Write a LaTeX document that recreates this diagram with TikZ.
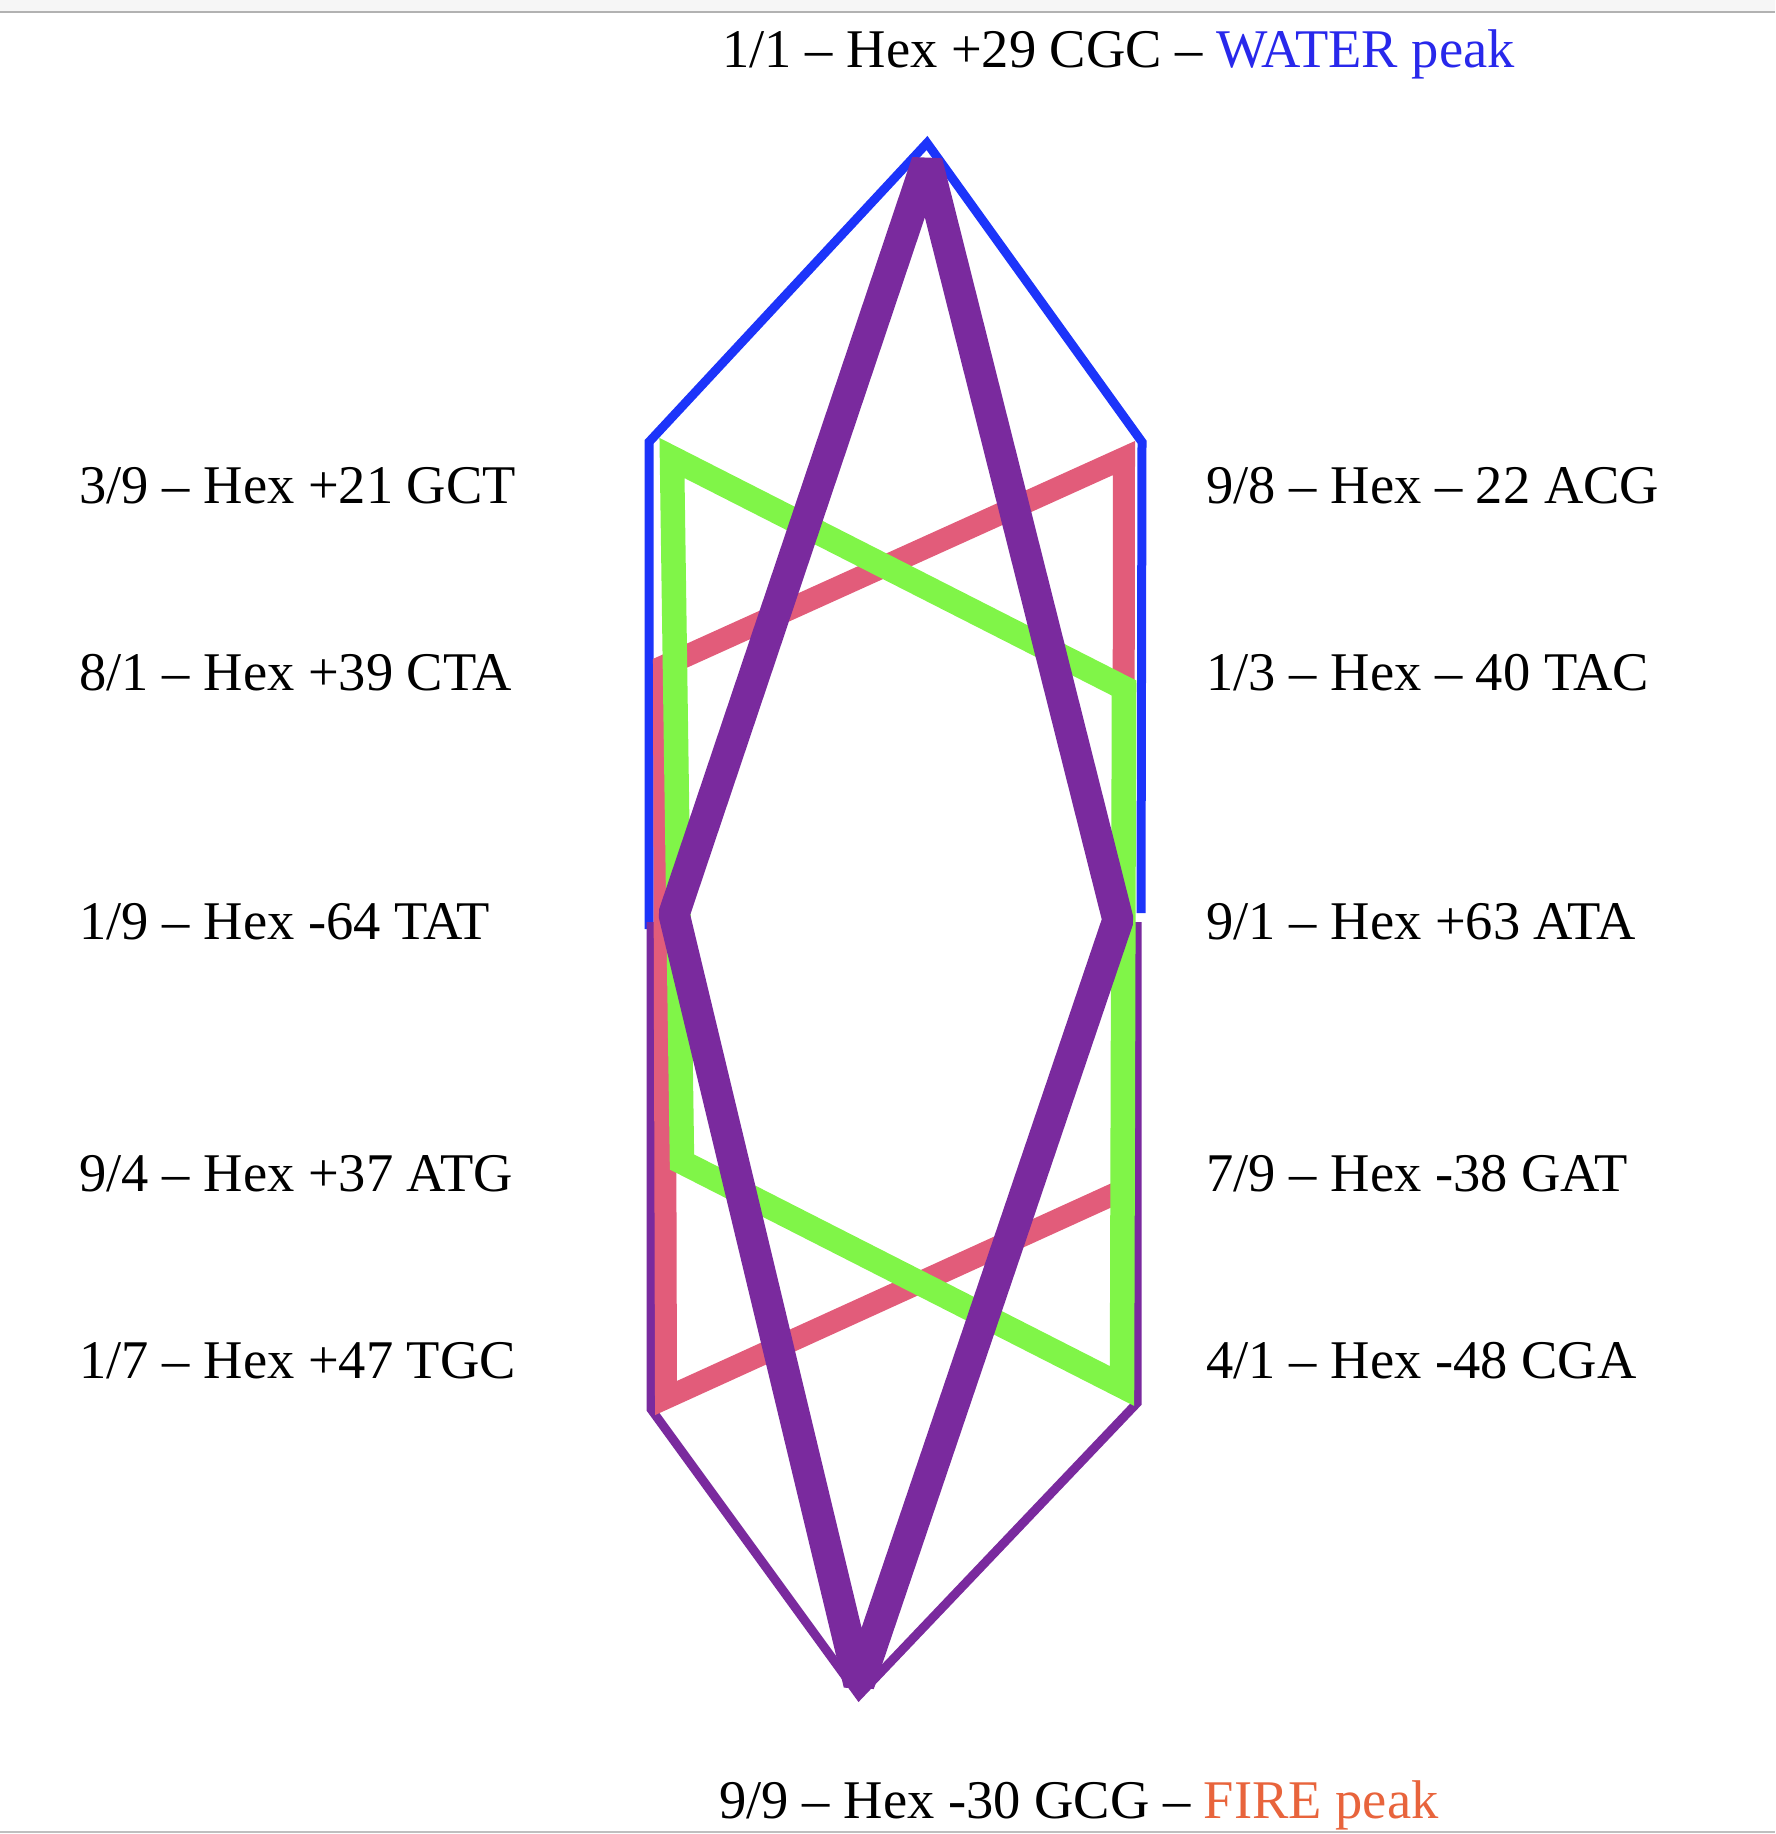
\documentclass[tikz,border=0pt]{standalone}
\usepackage{fontspec}
\setmainfont{Liberation Serif}
\usepackage{tikz}
\definecolor{waterline}{RGB}{28,52,250}
\definecolor{hexpurple}{RGB}{122,42,158}
\definecolor{hexgreen}{RGB}{128,245,72}
\definecolor{hexpink}{RGB}{226,92,122}
\definecolor{watertext}{RGB}{40,40,235}
\definecolor{firetext}{RGB}{232,100,60}
\newcommand{\hexsize}{\fontsize{21.8}{26}\selectfont}

\begin{document}
\begin{tikzpicture}[x=0.4pt, y=-0.4pt,
  hexlabel/.style={anchor=base west, inner sep=0pt, font=\hexsize},
  thinedge/.style={line width=3.6pt, line join=miter},
  bandedge/.style={line width=8.8pt, line join=miter},
  thickedge/.style={line width=12.5pt, line join=bevel}]
\useasboundingbox (0,0) rectangle (1775,1834);
% window frame
\fill[gray!7] (0,0) rectangle (1775,12);
\draw[gray!60, line width=0.8pt] (0,12) -- (1775,12);
\draw[gray!50, line width=0.8pt] (0,1832) -- (1775,1832);

% peaks
\coordinate (water) at (927,143);
\coordinate (fire) at (859,1695);
\coordinate (wtop) at (927,162);
\coordinate (fbot) at (859,1684);

% blue (water side)
\coordinate (bTL) at (649,442);
\coordinate (bTR) at (1142,442);
\draw[waterline, thinedge] (649,929) -- (bTL) -- (water) -- (bTR) -- (1141,913);

% thin purple (fire side)
\coordinate (vBL) at (651,1409);
\coordinate (vBR) at (1137,1403);
\draw[hexpurple, thinedge] (651,922) -- (vBL) -- (fire) -- (vBR) -- (1137,922);

% pink band
\coordinate (pTR) at (1124,458);
\coordinate (pL) at (664,666);
\coordinate (pBL) at (666,1398);
\coordinate (pR) at (1123,1190);
\draw[hexpink, bandedge] (pTR) -- (pL) -- (pBL) -- (pR) -- cycle;

% green band
\coordinate (gTL) at (672,458);
\coordinate (gR) at (1124,688);
\coordinate (gBR) at (1122,1386);
\coordinate (gL) at (682,1162);
\draw[hexgreen, line width=9.8pt, line join=miter] (gTL) -- (gR) -- (gBR) -- (gL) -- cycle;

% thick purple
\coordinate (mL) at (674,914);
\coordinate (mR) at (1118,920);
\draw[hexpurple, thickedge] (wtop) -- (mL) -- (fbot) -- (mR) -- cycle;

% labels
\foreach \ypos/\txt [count=\i] in {503/{3/9 – Hex +21 GCT}, 690/{8/1 – Hex +39 CTA},
    939/{1/9 – Hex -64 TAT}, 1191/{9/4 – Hex +37 ATG}, 1378/{1/7 – Hex +47 TGC}}
  \node[hexlabel] (left\i) at (79,\ypos) {\txt};
\foreach \ypos/\txt [count=\i] in {503/{9/8 – Hex – 22 ACG}, 690/{1/3 – Hex – 40 TAC},
    939/{9/1 – Hex +63 ATA}, 1191/{7/9 – Hex -38 GAT}, 1378/{4/1 – Hex -48 CGA}}
  \node[hexlabel] (right\i) at (1206,\ypos) {\txt};

\node[hexlabel] (waterlabel) at (722,67) {1/1 – Hex +29 CGC – \textcolor{watertext}{WATER peak}};
\node[hexlabel] (firelabel) at (719,1818) {9/9 – Hex -30 GCG – \textcolor{firetext}{FIRE peak}};
\end{tikzpicture}
\end{document}
